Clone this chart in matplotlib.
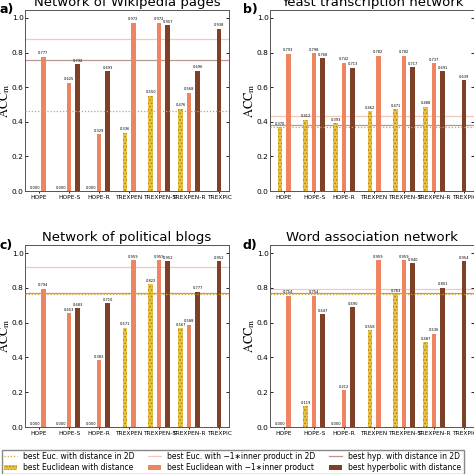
import numpy as np
import matplotlib
matplotlib.use("Agg")
import matplotlib.pyplot as plt
from matplotlib.lines import Line2D
from matplotlib.patches import Patch

plt.rcParams['mathtext.fontset'] = 'stix'
plt.rcParams['hatch.linewidth'] = 0.8

nan = np.nan
groups = ['HOPE', 'HOPE-S', 'HOPE-R', 'TREXPEN', 'TREXPEN-S', 'TREXPEN-R', 'TREXPIC']

titles = ['Network of Wikipedia pages', 'Yeast transcription network',
          'Network of political blogs', 'Word association network']
panel_tags = ['a)', 'b)', 'c)', 'd)']

# best Euclidean with distance
a_euc_dist = [0.000, 0.000, 0.000, 0.336, 0.550, 0.476, nan]
b_euc_dist = [0.370, 0.412, 0.393, 0.462, 0.471, 0.488, nan]
c_euc_dist = [0.000, 0.000, 0.000, 0.571, 0.822, 0.567, nan]
d_euc_dist = [0.000, 0.119, 0.000, 0.558, 0.763, 0.487, nan]

# best Euclidean with -1*inner product
a_euc_inner = [0.777, 0.625, 0.329, 0.972, 0.972, 0.568, nan]
b_euc_inner = [0.793, 0.798, 0.742, 0.782, 0.782, 0.737, nan]
c_euc_inner = [0.794, 0.653, 0.383, 0.959, 0.959, 0.588, nan]
d_euc_inner = [0.754, 0.754, 0.212, 0.959, 0.959, 0.536, nan]

# best hyperbolic with distance
a_hyp = [nan, 0.732, 0.693, nan, 0.957, 0.696, 0.938]
b_hyp = [nan, 0.768, 0.713, nan, 0.717, 0.691, 0.639]
c_hyp = [nan, 0.683, 0.710, nan, 0.952, 0.777, 0.952]
d_hyp = [nan, 0.647, 0.690, nan, 0.940, 0.801, 0.954]

# 2D reference lines: (Euc. distance, Euc. inner product, hyp. distance)
a_lines_2d = [0.464, 0.879, 0.757]
b_lines_2d = [0.372, 0.432, 0.380]
c_lines_2d = [0.765, 0.917, 0.770]
d_lines_2d = [0.766, 0.791, 0.770]

panels = [
    (a_euc_dist, a_euc_inner, a_hyp, a_lines_2d),
    (b_euc_dist, b_euc_inner, b_hyp, b_lines_2d),
    (c_euc_dist, c_euc_inner, c_hyp, c_lines_2d),
    (d_euc_dist, d_euc_inner, d_hyp, d_lines_2d),
]

C_YEL_FACE = '#E9C445'
C_YEL_EDGE = '#B8860B'
C_ORA = '#EE8560'
C_BRO = '#7E4128'
C_LINE_YEL = '#D9A520'
C_LINE_ORA = '#F6C7B2'
C_LINE_BRO = '#B59A8C'

W, H = 474, 474
fig = plt.figure(figsize=(W / 100, H / 100), dpi=100)

def ax_rect(left_px, top_px, w_px, h_px):
    return [left_px / W, 1 - (top_px + h_px) / H, w_px / W, h_px / H]

rects = [ax_rect(25, 10, 204, 181), ax_rect(270, 10, 204, 181),
         ax_rect(25, 245, 204, 182), ax_rect(270, 245, 204, 182)]
tag_pos = [(0, 10), (243, 10), (0, 246), (243, 246)]

slot = 0.283
bw = 0.15

for k, (ed, ei, hy, l2d) in enumerate(panels):
    ax = fig.add_axes(rects[k])
    series = [(ed, dict(facecolor=C_YEL_FACE, edgecolor=C_YEL_EDGE, hatch='.....', linewidth=0)),
              (ei, dict(color=C_ORA, linewidth=0)),
              (hy, dict(color=C_BRO, linewidth=0))]
    for gi in range(len(groups)):
        present = [(vals[gi], st) for vals, st in series if not np.isnan(vals[gi])]
        n = len(present)
        for j, (v, st) in enumerate(present):
            x = gi + (j - (n - 1) / 2) * slot
            ax.bar(x, v, width=bw, **st)
            ax.text(x, v + 0.008, f'{v:.3f}', ha='center', va='bottom', fontsize=2.6)
    ax.axhline(l2d[0], color=C_LINE_YEL, linestyle=(0, (1, 1.5)), linewidth=0.9, zorder=3)
    ax.axhline(l2d[1], color=C_LINE_ORA, linewidth=0.9, zorder=0.5)
    ax.axhline(l2d[2], color=C_LINE_BRO, linewidth=0.9, zorder=0.5)
    ax.set_xlim(-0.47, 6.33)
    ax.set_ylim(0, 1.046)
    ax.set_xticks(range(len(groups)))
    ax.set_xticklabels(groups, fontsize=4.2)
    ax.set_yticks(np.arange(0, 1.01, 0.2))
    ax.set_yticklabels([f'{t:.1f}' for t in np.arange(0, 1.01, 0.2)], fontsize=5.3)
    ax.tick_params(axis='y', direction='in', length=2, width=0.6, right=True, pad=1)
    ax.tick_params(axis='x', length=1.5, width=0.6, pad=1.5)
    for sp in ax.spines.values():
        sp.set_color('#555555')
        sp.set_linewidth(0.7)
    ax.set_ylabel(r'$\mathrm{ACC}_\mathrm{m}$', fontsize=9)
    ax.yaxis.set_label_coords(-0.062, 0.5)
    ax.set_title(titles[k], fontsize=9.5, pad=3)
    fig.text(tag_pos[k][0] / W, 1 - tag_pos[k][1] / H, panel_tags[k],
             fontsize=9, fontweight='bold', ha='left', va='center')

handles = [
    Line2D([], [], color=C_LINE_YEL, linestyle=(0, (1, 1.5)), linewidth=0.9),
    Patch(facecolor=C_YEL_FACE, edgecolor=C_YEL_EDGE, hatch='.....', linewidth=0),
    Line2D([], [], color=C_LINE_ORA, linewidth=0.9),
    Patch(facecolor=C_ORA, linewidth=0),
    Line2D([], [], color=C_LINE_BRO, linewidth=0.9),
    Patch(facecolor=C_BRO, linewidth=0),
]
labels = [
    'best Euc. with distance in 2D',
    'best Euclidean with distance',
    'best Euc. with \u22121\u2217inner product in 2D',
    'best Euclidean with \u22121\u2217inner product',
    'best hyp. with distance in 2D',
    'best hyperbolic with distance',
]
fig.legend(handles, labels, ncol=3, loc='upper left',
           bbox_to_anchor=(0.0, 1 - 448 / H), fontsize=5.5,
           handlelength=1.7, handletextpad=0.8, columnspacing=1.8,
           labelspacing=0.3, borderpad=0.3, borderaxespad=0.2,
           fancybox=False, edgecolor='#888888', framealpha=1)

fig.savefig('out.png', dpi=100)
